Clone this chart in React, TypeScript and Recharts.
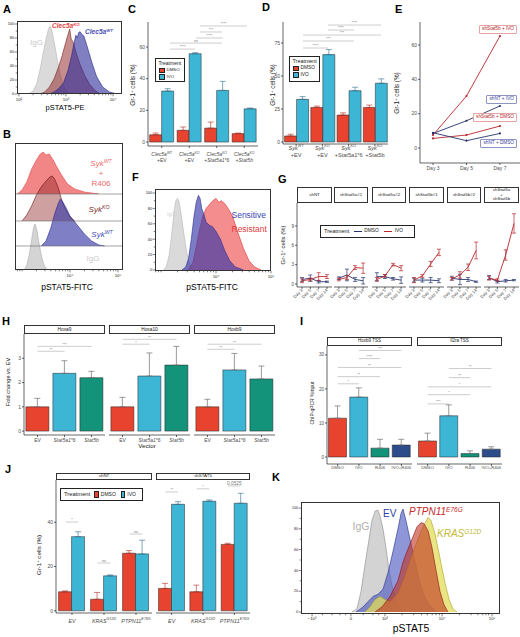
import React from 'react'
import {
  AreaChart, Area, BarChart, Bar, Cell, LineChart, Line,
  XAxis, YAxis, ErrorBar, ReferenceLine,
} from 'recharts'

const FONT = '"Liberation Sans", Arial, Helvetica, sans-serif'
const INK = '#4d4d4d'
const RED = '#e8432e'
const SKY = '#3db6d6'
const TEAL = '#12937a'
const NAVY = '#2c4c8a'
const LRED = '#b8262c'
const LNAVY = '#27346f'

// ---------- A  (x = log10 pSTAT5-PE, y = % of max)
const aIgG = [[2.2, 0], [2.3, 4], [2.38, 15], [2.45, 35], [2.52, 60], [2.58, 80], [2.63, 93], [2.67, 97], [2.71, 88], [2.76, 70], [2.82, 48], [2.88, 28], [2.95, 12], [3.02, 4], [3.1, 0]]
const aKO = [[2.45, 0], [2.55, 3], [2.65, 10], [2.75, 22], [2.85, 40], [2.92, 55], [2.98, 70], [3.03, 82], [3.08, 93], [3.11, 79], [3.16, 73], [3.22, 58], [3.3, 42], [3.4, 26], [3.5, 14], [3.6, 6], [3.72, 0]]
const aWT = [[2.65, 0], [2.75, 3], [2.85, 8], [2.95, 16], [3.05, 35], [3.12, 55], [3.17, 72], [3.21, 84], [3.24, 80], [3.27, 88], [3.3, 89], [3.34, 85], [3.38, 83], [3.45, 68], [3.55, 45], [3.65, 25], [3.78, 10], [3.92, 3], [4.08, 0]]

// ---------- B  (ridge rows, heights in row units)
const bIgG = [[3.05, 0], [3.1, 5], [3.15, 15], [3.2, 30], [3.24, 42], [3.27, 46], [3.31, 40], [3.35, 28], [3.4, 15], [3.45, 6], [3.52, 0]]
const bWT = [[3.4, 0], [3.5, 5], [3.6, 18], [3.68, 32], [3.75, 42], [3.8, 47], [3.85, 44], [3.92, 38], [4.0, 30], [4.1, 24], [4.2, 18], [4.3, 12], [4.45, 5], [4.6, 1], [4.72, 0]]
const bKO = [[3.0, 0], [3.1, 6], [3.2, 15], [3.3, 26], [3.4, 34], [3.5, 40], [3.58, 44], [3.63, 45], [3.68, 42], [3.75, 34], [3.82, 22], [3.9, 12], [4.0, 4], [4.1, 0]]
const bR406 = [[2.9, 0], [3.0, 4], [3.1, 12], [3.2, 25], [3.3, 34], [3.38, 40], [3.44, 42], [3.5, 39], [3.57, 40], [3.65, 34], [3.75, 25], [3.85, 17], [3.95, 10], [4.1, 5], [4.3, 2], [4.6, 0]]
const bBase = [0, 24, 49, 76]

// ---------- C / D
const treatments = ['DMSO', 'IVO']
const cGene = [['Clec5a', 'WT'], ['Clec5a', 'KO'], ['Clec5a', 'KO'], ['Clec5a', 'KO']]
const vectors = ['EV', 'EV', 'Stat5a1*6', 'Stat5b']
const cDmso = [4.6, 7.4, 8.8, 5.3]
const cDmsoErr = [1.1, 2.1, 3.8, 0.4]
const cIvo = [32.2, 55.8, 32.6, 21]
const cIvoErr = [1.5, 0.6, 5.7, 0.5]
const cSig = [
  { x1: 0.8, x2: 1.71, y: 58.7, t: '****' },
  { x1: 0.8, x2: 2.69, y: 62.5, t: 'ns' },
  { x1: 1.75, x2: 2.72, y: 65.7, t: '****' },
  { x1: 1.89, x2: 2.69, y: 69.5, t: '***' },
  { x1: 1.89, x2: 3.6, y: 73.3, t: '****' },
]
const dGene = [['Syk', 'WT'], ['Syk', 'KO'], ['Syk', 'KO'], ['Syk', 'KO']]
const dDmso = [4.6, 26.2, 20.4, 26.2]
const dDmsoErr = [1.3, 1.0, 1.7, 1.8]
const dIvo = [32.3, 66.2, 38.9, 44.5]
const dIvoErr = [2.1, 3.8, 2.6, 3.3]
const dSig = [
  { x1: 1.71, x2: 3.73, y: 88.6, t: '****' },
  { x1: 1.71, x2: 2.7, y: 84.8, t: '****' },
  { x1: 0.76, x2: 3.73, y: 81, t: '***' },
  { x1: 0.76, x2: 2.7, y: 76.5, t: '***' },
  { x1: 0.76, x2: 1.71, y: 71.2, t: '****' },
]

// ---------- E
const eDays = ['Day 3', 'Day 5', 'Day 7']
const eStat5bIvo = [7.6, 30.3, 65.2]
const eNtIvo = [8.5, 15.9, 24.5]
const eStat5bDmso = [5.6, 7.6, 12.8]
const eNtDmso = [8.9, 4.3, 8.5]

// ---------- F
const fIgG = [[3.05, 0], [3.1, 5], [3.15, 20], [3.2, 50], [3.24, 78], [3.27, 90], [3.3, 93], [3.33, 88], [3.37, 70], [3.42, 45], [3.47, 22], [3.52, 8], [3.58, 0]]
const fSens = [[3.38, 0], [3.45, 4], [3.5, 15], [3.55, 40], [3.6, 70], [3.64, 88], [3.68, 97], [3.71, 93], [3.74, 80], [3.78, 72], [3.82, 62], [3.88, 58], [3.94, 56], [4.0, 50], [4.08, 40], [4.16, 25], [4.25, 12], [4.35, 4], [4.5, 0]]
const fRes = [[3.5, 0], [3.58, 10], [3.64, 30], [3.7, 52], [3.76, 70], [3.82, 80], [3.88, 85], [3.94, 90], [4.0, 93], [4.05, 88], [4.1, 90], [4.16, 86], [4.22, 80], [4.3, 70], [4.4, 48], [4.5, 28], [4.6, 12], [4.7, 4], [4.82, 0]]

// ---------- G
const gFacets = ['shNT', 'shStat5a#1', 'shStat5a#2', 'shStat5b#1', 'shStat5b#2', 'shStat5a\n+\nshStat5b']
const gDays = ['Day 3', 'Day 5', 'Day 7', 'Day 14']
const gDmso = [[0.7, 0.9, 0.35, 0.35], [0.9, 1.4, 0.7, 0.5], [1.15, 1.15, 0.8, 0.6], [0.6, 0.6, 0.6, 0.5], [0.9, 0.7, 0.7, 0.35], [1.0, 0.35, 0.5, 0.6]]
const gDmsoErr = [[0.3, 0.5, 0.2, 0.1], [0.2, 0.9, 0.3, 0.5], [0.6, 0.3, 0.2, 0.5], [0.3, 0.3, 0.4, 0.3], [0.3, 0.8, 0.3, 0.1], [0.3, 0.2, 0.2, 0.1]]
const gIvo = [[0.5, 0.7, 1.15, 1.15], [0.7, 1.0, 2.55, 2.45], [0.7, 1.25, 3.0, 2.45], [0.6, 1.25, 3.1, 4.9], [0.8, 1.4, 2.6, 5.2], [0.9, 0.6, 4.5, 9.4]]
const gIvoErr = [[0.3, 0.2, 0.6, 0.3], [0.2, 0.3, 0.3, 0.8], [0.3, 0.2, 0.2, 0.4], [0.4, 0.2, 0.4, 0.5], [0.2, 0.5, 0.5, 1.3], [0.3, 0.2, 0.8, 1.5]]

// ---------- H
const hFacets = ['Hoxa9', 'Hoxa10', 'Hoxb9']
const hVectors = ['EV', 'Stat5a1*6', 'Stat5b']
const hColors = [RED, SKY, TEAL]
const hFold = [[1, 2.38, 2.2], [1, 2.27, 2.72], [1, 2.52, 2.15]]
const hErr = [[0.35, 0.52, 0.26], [0.39, 0.95, 0.77], [0.31, 0.68, 0.53]]
const hSig = [
  [{ x1: 0.5, x2: 2.5, y: 3.49, t: '***' }, { x1: 0.5, x2: 1.5, y: 3.29, t: '**' }],
  [{ x1: 0.5, x2: 2.5, y: 3.78, t: '**' }, { x1: 0.5, x2: 1.5, y: 3.58, t: '*' }],
  [{ x1: 0.5, x2: 2.5, y: 3.58, t: '**' }, { x1: 0.5, x2: 1.5, y: 3.37, t: '**' }],
]

// ---------- I
const iFacets = ['Hoxb9 TSS', 'Il2ra TSS']
const iConds = ['DMSO', 'IVO', 'R406', 'IVO+R406']
const iColors = [RED, SKY, TEAL, NAVY]
const iInput = [[11.4, 17.6, 2.6, 3.5], [4.7, 12.1, 1.0, 2.3]]
const iErr = [[3.6, 2.7, 2.6, 1.7], [2.3, 3.2, 0.8, 0.7]]
const iSig = [
  [
    { x1: 1.5, x2: 3.5, y: 31.3, t: '***' }, { x1: 1.5, x2: 2.5, y: 28.9, t: '****' },
    { x1: 0.5, x2: 3.5, y: 26.3, t: '**' }, { x1: 0.5, x2: 2.5, y: 23.6, t: '**' },
    { x1: 0.5, x2: 1.5, y: 21.5, t: '*' },
  ],
  [
    { x1: 1.5, x2: 3.5, y: 26, t: '**' }, { x1: 1.5, x2: 2.5, y: 23.3, t: '**' },
    { x1: 0.5, x2: 3.5, y: 20.6, t: '*' }, { x1: 0.5, x2: 2.5, y: 18.3, t: '*' },
    { x1: 0.5, x2: 1.5, y: 15.6, t: '***' },
  ],
]

// ---------- J
const jFacets = ['shNT', 'shSTAT5']
const jGene = [['EV', ''], ['KRAS', 'G12D'], ['PTPN11', 'E76G']]
const jDmso = [[8.6, 5.2, 26], [10.1, 8.6, 30]]
const jDmsoErr = [[0.4, 3.1, 1.2], [2.3, 3.0, 0.5]]
const jIvo = [[33.5, 15.8, 25.7], [48.1, 49.5, 48.6]]
const jIvoErr = [[2.2, 0.4, 6.2], [1.2, 0.6, 4.5]]
const jSig = [
  [{ x1: 0.3, x2: 0.7, y: 40.1, t: '*' }, { x1: 1.3, x2: 1.7, y: 21.6, t: 'ns' }, { x1: 2.3, x2: 2.7, y: 34.7, t: 'ns' }],
  [{ x1: 0.3, x2: 0.7, y: 53.7, t: '**' }, { x1: 1.3, x2: 1.7, y: 55.1, t: '*' }, { x1: 2.3, x2: 2.7, y: 56.4, t: '0.0525' }],
]

// ---------- K  (x = display channel 0..1024, biexponential)
const kIgG = [[262, 0], [288, 3], [309, 20], [329, 45], [350, 70], [365, 88], [381, 97], [396, 98], [407, 92], [422, 80], [437, 62], [453, 40], [468, 25], [489, 12], [509, 4], [535, 0]]
const kEV = [[283, 0], [314, 4], [345, 10], [371, 15], [396, 17], [422, 22], [448, 38], [473, 58], [499, 80], [515, 95], [525, 99], [540, 88], [561, 70], [587, 48], [612, 28], [638, 14], [664, 6], [700, 0]]
const kPTPN11 = [[381, 0], [417, 5], [458, 15], [499, 30], [525, 48], [545, 58], [571, 70], [597, 82], [618, 86], [633, 85], [654, 78], [674, 62], [695, 40], [715, 20], [736, 7], [756, 0]]
const kKRAS = [[329, 0], [355, 5], [381, 12], [407, 15], [432, 12], [458, 10], [499, 18], [535, 35], [571, 55], [602, 70], [628, 82], [654, 91], [669, 88], [690, 75], [715, 52], [741, 28], [762, 12], [782, 3], [803, 0]]
const kMajors = [{ v: 57, t: '−10³' }, { v: 257, t: '0' }, { v: 432, t: '10³' }, { v: 726, t: '10⁴' }, { v: 983, t: '10⁵' }]
const kMinors = [110, 160, 200, 230, 320, 370, 400, 520, 580, 620, 650, 675, 695, 712, 815, 875, 910, 935, 952, 965]

const pctMajors = [0, 20, 40, 60, 80, 100].map(v => ({ v, t: String(v) }))
const pctTicks = [0, 10, 20, 30, 40, 50, 60, 70, 80, 90, 100]

// ------------------------------------------------------------------
type Major = { v: number; t: string }
type Sig = { x1: number; x2: number; y: number; t: string }
type Curve = { pts: number[][]; fill: string; stroke: string; op: number; base?: number }

const AX = { stroke: '#000', strokeWidth: 0.6 }

const frame = (l: number, t: number, r: number, b: number, yw: number, xh: number) => ({
  style: { position: 'absolute' as const, left: l - yw, top: t - 2 },
  width: r - l + yw + 2,
  height: b - t + 2 + xh,
  margin: { top: 2, right: 2, bottom: 0, left: 0 },
})

const logTicks = (lo: number, hi: number) => {
  const out: number[] = []
  for (let n = Math.floor(lo); n <= Math.ceil(hi); n++)
    for (let k = 1; k < 10; k++) {
      const v = n + Math.log10(k)
      if (v >= lo && v <= hi) out.push(v)
    }
  return out
}

const near = (list: Major[], v: number) => list.find(m => Math.abs(m.v - v) < 1e-6)

const flowXTick = (majors: Major[], fs: number) => (p: any) => {
  const m = near(majors, p.payload.value)
  return (
    <g>
      <line x1={p.x} x2={p.x} y1={p.y} y2={p.y + (m ? 2.4 : 1.3)} stroke="#000" strokeWidth={0.5} />
      {m && <text x={p.x} y={p.y + 3 + fs * 0.8} fontSize={fs} textAnchor="middle" fill="#222">{m.t}</text>}
    </g>
  )
}

const flowYTick = (majors: Major[], fs: number) => (p: any) => {
  const m = near(majors, p.payload.value)
  return (
    <g>
      <line x1={p.x} x2={p.x - (m ? 2.4 : 1.3)} y1={p.y} y2={p.y} stroke="#000" strokeWidth={0.5} />
      {m && <text x={p.x - 3} y={p.y + fs * 0.35} fontSize={fs} textAnchor="end" fill="#222">{m.t}</text>}
    </g>
  )
}

// significance brackets, drawn on a hidden numeric x axis (id "n") where category i spans [i, i+1]
const sigLines = (list: Sig[]) =>
  list.map((s, i) => (
    <ReferenceLine
      key={`sig${i}`}
      xAxisId="n"
      segment={[{ x: s.x1, y: s.y }, { x: s.x2, y: s.y }]}
      stroke="#9a9a9a"
      strokeWidth={0.5}
      ifOverflow="visible"
      label={{ value: s.t, position: 'top', offset: 0.6, fontSize: s.t.length > 4 ? 4.8 : 3.8, fill: '#7a7a7a' }}
    />
  ))

const Sup = ({ children }: { children: React.ReactNode }) => (
  <span style={{ fontSize: '0.65em', verticalAlign: '0.5em', lineHeight: 0 }}>{children}</span>
)

type TxtProps = { x: number; y: number; s: number; c?: string; b?: boolean; i?: boolean; center?: boolean; rot?: boolean; children: React.ReactNode }
const Txt = ({ x, y, s, c = '#000', b, i, center, rot, children }: TxtProps) => (
  <div
    style={{
      position: 'absolute', left: x, top: y, fontSize: s, lineHeight: 1, color: c,
      fontWeight: b ? 700 : 400, fontStyle: i ? 'italic' : 'normal', whiteSpace: 'nowrap',
      transform: rot ? 'translate(-50%,-50%) rotate(-90deg)' : center ? 'translateX(-50%)' : undefined,
    }}
  >
    {children}
  </div>
)

const Strip = ({ l, r, t, b, fs, children }: { l: number; r: number; t: number; b: number; fs: number; children: React.ReactNode }) => (
  <div
    style={{
      position: 'absolute', left: l, top: t, width: r - l, height: b - t, border: '0.8px solid #333',
      boxSizing: 'border-box', background: '#fff', display: 'flex', alignItems: 'center',
      justifyContent: 'center', textAlign: 'center', fontSize: fs, lineHeight: 1.1, color: '#1a1a1a', whiteSpace: 'pre',
    }}
  >
    {children}
  </div>
)

const Letter = ({ x, y, children }: { x: number; y: number; children: React.ReactNode }) => (
  <Txt x={x} y={y} s={11} b>{children}</Txt>
)

const trtColors = [RED, SKY]

const VLegend = ({ x, y, w, h, fs }: { x: number; y: number; w: number; h: number; fs: number }) => (
  <div
    style={{
      position: 'absolute', left: x, top: y, width: w, height: h, border: '0.8px solid #222',
      boxSizing: 'border-box', background: '#fff', padding: '2px 2.5px', fontSize: fs - 0.6, lineHeight: 1, color: '#1a1a1a',
    }}
  >
    <div style={{ fontSize: fs, marginBottom: 1.5 }}>Treatment</div>
    {treatments.map((name, i) => (
      <div key={name} style={{ display: 'flex', alignItems: 'center', gap: 2, marginTop: 1 }}>
        <span style={{ width: 6, height: 5.5, background: trtColors[i], border: '0.5px solid #222', boxSizing: 'border-box', display: 'inline-block' }} />
        {name}
      </div>
    ))}
  </div>
)

// ------------------------------------------------------------------
type FlowProps = {
  l: number; t: number; r: number; b: number; yw: number; xh: number; fs: number
  xDomain: number[]; yDomain: number[]; xTicks: number[]; xMajors: Major[]
  yTicks: number[]; yMajors: Major[]; curves: Curve[]; extra?: React.ReactNode
}

function FlowPlot({ l, t, r, b, yw, xh, fs, xDomain, yDomain, xTicks, xMajors, yTicks, yMajors, curves, extra }: FlowProps) {
  const f = frame(l, t, r, b, yw, xh)
  return (
    <>
      <div style={f.style}>
        <AreaChart width={f.width} height={f.height} margin={f.margin}>
          <XAxis
            type="number" dataKey="x" domain={xDomain} allowDataOverflow ticks={xTicks} interval={0}
            tick={flowXTick(xMajors, fs)} tickSize={0} tickMargin={0} tickLine={false} axisLine={false} height={xh}
          />
          <YAxis
            type="number" domain={yDomain} allowDataOverflow ticks={yTicks} interval={0}
            tick={yTicks.length ? flowYTick(yMajors, fs - 0.6) : false} tickSize={0} tickMargin={0}
            tickLine={false} axisLine={false} width={yw}
          />
          {curves.map((c, i) => (
            <Area
              key={i}
              data={c.pts.map(([x, y]) => ({ x, y: y + (c.base ?? 0) }))}
              dataKey="y"
              type="linear"
              baseValue={c.base ?? 0}
              fill={c.fill}
              fillOpacity={c.op}
              stroke={c.stroke}
              strokeWidth={0.6}
              dot={false}
              activeDot={false}
              isAnimationActive={false}
            />
          ))}
          {extra}
        </AreaChart>
      </div>
      <div
        style={{
          position: 'absolute', left: l, top: t, width: r - l, height: b - t,
          border: '1px solid #333', boxSizing: 'border-box', pointerEvents: 'none',
        }}
      />
    </>
  )
}

// ------------------------------------------------------------------
function PanelA() {
  return (
    <>
      <FlowPlot
        l={17} t={21} r={122} b={94} yw={17} xh={10} fs={4.4}
        xDomain={[1.96, 4.19]} yDomain={[0, 104.3]}
        xTicks={logTicks(1.96, 4.19)}
        xMajors={[{ v: 2, t: '10²' }, { v: 3, t: '10³' }, { v: 4, t: '10⁴' }]}
        yTicks={pctTicks} yMajors={pctMajors}
        curves={[
          { pts: aIgG, fill: '#d4d4d4', stroke: '#b5b5b5', op: 0.85 },
          { pts: aKO, fill: '#8b1c1c', stroke: '#7a2020', op: 0.5 },
          { pts: aWT, fill: '#2a2a9a', stroke: '#24248a', op: 0.6 },
        ]}
      />
      <Txt x={30} y={38.5} s={8} c="#c9c9c9">IgG</Txt>
      <Txt x={52} y={23} s={6.6} c="#e04444" b i>Clec5a<Sup>KO</Sup></Txt>
      <Txt x={85} y={29} s={6.6} c="#4a50b0" b i>Clec5a<Sup>WT</Sup></Txt>
      <Txt x={65} y={103.6} s={7.5} center>pSTAT5-PE</Txt>
    </>
  )
}

function PanelB() {
  const rows = [
    { pts: bR406, fill: '#f07070', stroke: '#e04c4c', op: 0.85, base: bBase[3] },
    { pts: bKO, fill: '#8b1c1c', stroke: '#6b1010', op: 0.42, base: bBase[2] },
    { pts: bWT, fill: '#3a3aa8', stroke: '#2a2a90', op: 0.65, base: bBase[1] },
    { pts: bIgG, fill: '#cfcfcf', stroke: '#ababab', op: 0.9, base: bBase[0] },
  ]
  return (
    <>
      <FlowPlot
        l={15} t={143} r={123} b={270} yw={0} xh={10} fs={4.4}
        xDomain={[2.854, 5.104]} yDomain={[0, 127]}
        xTicks={logTicks(2.854, 5.104)}
        xMajors={[{ v: 4, t: '10⁴' }, { v: 5, t: '10⁵' }]}
        yTicks={[]} yMajors={[]}
        curves={rows}
        extra={bBase.slice(1).map(v => <ReferenceLine key={v} y={v} stroke="#666" strokeWidth={0.6} />)}
      />
      <div style={{ position: 'absolute', left: 101, top: 159.2, transform: 'translateX(-50%)', fontSize: 8, lineHeight: '10px', color: '#ee6a6a', textAlign: 'center', whiteSpace: 'nowrap' }}>
        <i>Syk<Sup>WT</Sup></i><br />+<br />R406
      </div>
      <Txt x={99} y={206} s={8} c="#7a1f1f" i center>Syk<Sup>KO</Sup></Txt>
      <Txt x={102} y={231} s={8} c="#4048b0" i center>Syk<Sup>WT</Sup></Txt>
      <Txt x={93} y={255} s={8} c="#cccccc" center>IgG</Txt>
      <Txt x={67} y={283.3} s={8.5} center>pSTAT5-FITC</Txt>
    </>
  )
}

const geneTick = (genes: string[][], vec: string[] | null, fs: number, b1: number, gap: number, vecItalic: boolean) => (p: any) => {
  const i = Number(p.payload.value)
  const [g, s] = genes[i]
  return (
    <g>
      <text x={p.x} y={p.y + b1} fontSize={fs} textAnchor="middle" fill={INK} fontStyle="italic">
        {g}
        {s && <tspan fontSize={fs * 0.68} dy={-fs * 0.38}>{s}</tspan>}
      </text>
      {vec && (
        <text x={p.x} y={p.y + b1 + gap} fontSize={fs} textAnchor="middle" fill={INK}>
          +<tspan fontStyle={vec[i] === 'EV' || !vecItalic ? 'normal' : 'italic'}>{vec[i]}</tspan>
        </text>
      )}
    </g>
  )
}

type GroupProps = {
  l: number; t: number; r: number; b: number; xh: number; yw: number; showY: boolean
  genes: string[][]; vec: string[] | null; vecItalic: boolean; fs: number; b1: number; gap: number
  dmso: number[]; dmsoErr: number[]; ivo: number[]; ivoErr: number[]
  yDomain: number[]; yTicks: number[]; sig: Sig[]; gapPct: string; yfs: number
}

function GroupBars(p: GroupProps) {
  const f = frame(p.l, p.t, p.r, p.b, p.showY ? p.yw : 0, p.xh)
  const rows = p.dmso.map((v, i) => ({
    c: String(i), pos: i + 0.5, dmso: v, de: [0, p.dmsoErr[i]], ivo: p.ivo[i], ie: [0, p.ivoErr[i]],
  }))
  return (
    <div style={f.style}>
      <BarChart width={f.width} height={f.height} margin={f.margin} data={rows} barCategoryGap={p.gapPct} barGap={0}>
        <XAxis dataKey="c" interval={0} tick={geneTick(p.genes, p.vec, p.fs, p.b1, p.gap, p.vecItalic)} tickSize={2} tickMargin={0} height={p.xh} axisLine={AX} tickLine={AX} />
        <XAxis xAxisId="n" dataKey="pos" type="number" domain={[0, rows.length]} hide allowDataOverflow />
        <YAxis
          domain={p.yDomain} ticks={p.yTicks} allowDataOverflow hide={!p.showY} width={p.showY ? p.yw : 0}
          tick={{ fontSize: p.yfs, fill: INK }} tickSize={2} tickMargin={1} axisLine={AX} tickLine={AX}
        />
        <Bar dataKey="dmso" fill={RED} stroke="#222" strokeWidth={0.5} isAnimationActive={false}>
          <ErrorBar dataKey="de" width={3} stroke="#b0281c" strokeWidth={0.6} />
        </Bar>
        <Bar dataKey="ivo" fill={SKY} stroke="#222" strokeWidth={0.5} isAnimationActive={false}>
          <ErrorBar dataKey="ie" width={3} stroke="#2a6f8c" strokeWidth={0.6} />
        </Bar>
        {sigLines(p.sig)}
      </BarChart>
    </div>
  )
}

function PanelC() {
  return (
    <>
      <GroupBars
        l={148} t={22} r={258} b={146} xh={22} yw={10} showY genes={cGene} vec={vectors} vecItalic
        fs={5} b1={8} gap={6} dmso={cDmso} dmsoErr={cDmsoErr} ivo={cIvo} ivoErr={cIvoErr}
        yDomain={[-2.5, 75.8]} yTicks={[0, 20, 40, 60]} sig={cSig} gapPct="6%" yfs={5}
      />
      <VLegend x={155} y={58} w={30} h={24} fs={5} />
      <Txt x={133} y={85} s={6.4} c="#222" rot>Gr-1<Sup>+</Sup> cells (%)</Txt>
    </>
  )
}

function PanelD() {
  return (
    <>
      <GroupBars
        l={283} t={22} r={388} b={144} xh={22} yw={10} showY genes={dGene} vec={vectors} vecItalic={false}
        fs={5.6} b1={3.5} gap={7.5} dmso={dDmso} dmsoErr={dDmsoErr} ivo={dIvo} ivoErr={dIvoErr}
        yDomain={[-1.5, 90.9]} yTicks={[0, 25, 50, 75]} sig={dSig} gapPct="6%" yfs={5}
      />
      <VLegend x={289} y={56} w={31} h={26} fs={5.4} />
      <Txt x={273} y={85} s={6.4} c="#222" rot>Gr-1<Sup>+</Sup> cells (%)</Txt>
    </>
  )
}

function PanelE() {
  const f = frame(420, 22, 520, 163, 10, 10)
  const rows = eDays.map((d, k) => ({ x: k + 1, a: eStat5bIvo[k], b: eNtIvo[k], c: eStat5bDmso[k], d: eNtDmso[k] }))
  const series: [string, string][] = [['c', LRED], ['d', LNAVY], ['b', LNAVY], ['a', LRED]]
  const tag = (y: number, text: string, c: string, bc: string) => (
    <div style={{ position: 'absolute', right: 3, top: y, fontSize: 4.7, lineHeight: 1, color: c, border: `0.6px solid ${bc}`, padding: '1px 2px', background: '#fff', whiteSpace: 'nowrap', borderRadius: 1 }}>
      {text}
    </div>
  )
  return (
    <>
      <div style={f.style}>
        <LineChart width={f.width} height={f.height} margin={f.margin} data={rows}>
          <XAxis
            type="number" dataKey="x" domain={[0.61, 3.6]} allowDataOverflow ticks={[1, 2, 3]} interval={0}
            tickFormatter={(v: number) => eDays[v - 1]} tick={{ fontSize: 5, fill: INK }} tickSize={2} tickMargin={1}
            height={10} axisLine={AX} tickLine={AX}
          />
          <YAxis domain={[-8.7, 73.4]} allowDataOverflow ticks={[0, 20, 40, 60]} width={10} tick={{ fontSize: 5, fill: INK }} tickSize={2} tickMargin={1} axisLine={AX} tickLine={AX} />
          {series.map(([k, c]) => (
            <Line key={k} dataKey={k} type="linear" stroke={c} strokeWidth={0.9} dot={{ r: 1.1, fill: c, stroke: c, strokeWidth: 0 }} activeDot={false} isAnimationActive={false} />
          ))}
        </LineChart>
      </div>
      {tag(25, 'shStat5b + IVO', LRED, '#e6a3a3')}
      {tag(95, 'shNT + IVO', '#3a3f9a', '#8f94c4')}
      {tag(113, 'shStat5b + DMSO', LRED, '#e6a3a3')}
      {tag(139, 'shNT + DMSO', '#3a3f9a', '#8f94c4')}
      <Txt x={397} y={93} s={6.4} c="#222" rot>Gr-1<Sup>+</Sup> cells (%)</Txt>
    </>
  )
}

function PanelF() {
  return (
    <>
      <FlowPlot
        l={155} t={189} r={271} b={271} yw={13} xh={10} fs={4.4}
        xDomain={[2.89, 5.0]} yDomain={[-1.3, 105.2]}
        xTicks={logTicks(2.89, 5.0)}
        xMajors={[{ v: 4, t: '10⁴' }, { v: 5, t: '10⁵' }]}
        yTicks={pctTicks} yMajors={pctMajors}
        curves={[
          { pts: fIgG, fill: '#d4d4d4', stroke: '#b5b5b5', op: 0.85 },
          { pts: fRes, fill: '#f06868', stroke: '#e03030', op: 0.75 },
          { pts: fSens, fill: '#3535a8', stroke: '#2a2a90', op: 0.65 },
        ]}
      />
      <Txt x={167} y={211.7} s={5} c="#d0d0d0">IgG</Txt>
      <Txt x={231.5} y={210.8} s={8.5} c="#3a48b0">Sensitive</Txt>
      <Txt x={231.5} y={224.8} s={8.5} c="#e03c3c">Resistant</Txt>
      <Txt x={212} y={283.3} s={8.5} center>pSTAT5-FITC</Txt>
    </>
  )
}

const gStripX = [[297, 332], [334, 368], [372, 406], [409, 444], [447, 481], [484, 519]]

const rotTick = (p: any) => (
  <text x={p.x + 1} y={p.y + 1} transform={`rotate(-45 ${p.x + 1} ${p.y + 1})`} textAnchor="end" fontSize={4.3} fill={INK}>
    {gDays[p.payload.value - 1]}
  </text>
)

function PanelG() {
  return (
    <>
      {gFacets.map((name, i) => {
        const [l, r] = gStripX[i]
        const f = frame(l, 203, r, 287, i === 0 ? 10 : 0, 18)
        const rows = gDays.map((d, k) => ({ x: k + 1, dmso: gDmso[i][k], de: gDmsoErr[i][k], ivo: gIvo[i][k], ie: gIvoErr[i][k] }))
        return (
          <React.Fragment key={name}>
            <Strip l={l} r={r} t={187} b={203} fs={4.4}>{name}</Strip>
            <div style={f.style}>
              <LineChart width={f.width} height={f.height} margin={f.margin} data={rows}>
                <XAxis type="number" dataKey="x" domain={[0.4, 4.6]} allowDataOverflow ticks={[1, 2, 3, 4]} interval={0} tick={rotTick} tickSize={2} tickMargin={0.5} height={18} axisLine={AX} tickLine={AX} />
                <YAxis domain={[-0.47, 12.57]} allowDataOverflow ticks={[0, 3, 6, 9]} hide={i > 0} width={i === 0 ? 10 : 0} tick={{ fontSize: 4.6, fill: INK }} tickSize={2} tickMargin={1} axisLine={AX} tickLine={AX} />
                <Line dataKey="dmso" type="linear" stroke={LNAVY} strokeWidth={0.9} dot={false} activeDot={false} isAnimationActive={false}>
                  <ErrorBar dataKey="de" width={2} stroke={LNAVY} strokeWidth={0.7} direction="y" />
                </Line>
                <Line dataKey="ivo" type="linear" stroke={LRED} strokeWidth={0.9} dot={false} activeDot={false} isAnimationActive={false}>
                  <ErrorBar dataKey="ie" width={2} stroke={LRED} strokeWidth={0.7} direction="y" />
                </Line>
              </LineChart>
            </div>
          </React.Fragment>
        )
      })}
      <div style={{ position: 'absolute', left: 320, top: 225, width: 95, height: 13, border: '0.8px solid #222', boxSizing: 'border-box', background: '#fff', display: 'flex', alignItems: 'center', gap: 2.5, padding: '0 3px', fontSize: 4.8, color: '#1a1a1a', lineHeight: 1 }}>
        <span style={{ fontSize: 5.6, marginRight: 2 }}>Treatment</span>
        {treatments.map((name, i) => (
          <React.Fragment key={name}>
            <span style={{ width: 8, height: 0, borderTop: `1.2px solid ${i === 0 ? LNAVY : LRED}`, display: 'inline-block' }} />
            <span style={{ marginRight: 3 }}>{name}</span>
          </React.Fragment>
        ))}
      </div>
      <Txt x={283} y={245} s={6} c="#222" rot>Gr-1<Sup>+</Sup> cells (%)</Txt>
    </>
  )
}

const hStripX = [[24, 105], [109, 190], [194, 275]]

const hTick = (p: any) => (
  <text x={p.x} y={p.y + 4.6} fontSize={5} textAnchor="middle" fill={INK} fontStyle={p.payload.value === 'EV' ? 'normal' : 'italic'}>
    {p.payload.value}
  </text>
)

function PanelH() {
  return (
    <>
      {hFacets.map((name, i) => {
        const [l, r] = hStripX[i]
        const f = frame(l, 334, r, 435, i === 0 ? 8 : 0, 10)
        const rows = hVectors.map((v, k) => ({ c: v, pos: k + 0.5, v: hFold[i][k], e: [0, hErr[i][k]] }))
        return (
          <React.Fragment key={name}>
            <Strip l={l} r={r} t={325} b={334} fs={4.8}>{name}</Strip>
            <div style={f.style}>
              <BarChart width={f.width} height={f.height} margin={f.margin} data={rows} barCategoryGap="7%">
                <XAxis dataKey="c" interval={0} tick={hTick} tickSize={2} tickMargin={0} height={10} axisLine={AX} tickLine={AX} />
                <XAxis xAxisId="n" dataKey="pos" type="number" domain={[0, 3]} hide allowDataOverflow />
                <YAxis domain={[-0.16, 4]} allowDataOverflow ticks={[0, 1, 2, 3]} hide={i > 0} width={i === 0 ? 8 : 0} tick={{ fontSize: 5, fill: INK }} tickSize={2} tickMargin={1} axisLine={AX} tickLine={AX} />
                <Bar dataKey="v" stroke="#222" strokeWidth={0.5} isAnimationActive={false}>
                  {rows.map((_, k) => <Cell key={k} fill={hColors[k]} />)}
                  <ErrorBar dataKey="e" width={3} stroke="#707070" strokeWidth={0.7} />
                </Bar>
                {sigLines(hSig[i])}
              </BarChart>
            </div>
          </React.Fragment>
        )
      })}
      <Txt x={147} y={442.5} s={6.2} c="#222" center>Vector</Txt>
      <Txt x={9} y={382} s={5.6} c="#222" rot>Fold change vs. EV</Txt>
    </>
  )
}

const iStripX = [[327, 412], [417, 502]]

function PanelI() {
  return (
    <>
      {iFacets.map((name, i) => {
        const [l, r] = iStripX[i]
        const f = frame(l, 346, r, 464, i === 0 ? 10 : 0, 8)
        const rows = iConds.map((c, k) => ({ c, pos: k + 0.5, v: iInput[i][k], e: [0, iErr[i][k]] }))
        return (
          <React.Fragment key={name}>
            <Strip l={l} r={r} t={337} b={346} fs={4.5}>{name}</Strip>
            <div style={f.style}>
              <BarChart width={f.width} height={f.height} margin={f.margin} data={rows} barCategoryGap="7%">
                <XAxis dataKey="c" interval={0} tick={{ fontSize: 4.2, fill: INK }} tickSize={2} tickMargin={0.5} height={8} axisLine={AX} tickLine={AX} />
                <XAxis xAxisId="n" dataKey="pos" type="number" domain={[0, 4]} hide allowDataOverflow />
                <YAxis domain={[-2.06, 32.6]} allowDataOverflow ticks={[0, 10, 20, 30]} hide={i > 0} width={i === 0 ? 10 : 0} tick={{ fontSize: 4.6, fill: INK }} tickSize={2} tickMargin={1} axisLine={AX} tickLine={AX} />
                <Bar dataKey="v" stroke="#222" strokeWidth={0.5} isAnimationActive={false}>
                  {rows.map((_, k) => <Cell key={k} fill={iColors[k]} />)}
                  <ErrorBar dataKey="e" width={3} stroke="#707070" strokeWidth={0.7} />
                </Bar>
                {sigLines(iSig[i])}
              </BarChart>
            </div>
          </React.Fragment>
        )
      })}
      <Txt x={312} y={403} s={5} c="#222" rot>ChIP-qPCR %input</Txt>
    </>
  )
}

const jStripX = [[56, 152], [156, 250]]

function PanelJ() {
  return (
    <>
      {jFacets.map((name, i) => {
        const [l, r] = jStripX[i]
        return (
          <React.Fragment key={name}>
            <Strip l={l} r={r} t={473} b={480} fs={4.4}>{name}</Strip>
            <GroupBars
              l={l} t={480} r={r} b={613} xh={16} yw={10} showY={i === 0} genes={jGene} vec={null} vecItalic
              fs={5.4} b1={7.5} gap={0} dmso={jDmso[i]} dmsoErr={jDmsoErr[i]} ivo={jIvo[i]} ivoErr={jIvoErr[i]}
              yDomain={[-1, 59.1]} yTicks={[0, 20, 40]} sig={jSig[i]} gapPct="8%" yfs={5}
            />
          </React.Fragment>
        )
      })}
      <div style={{ position: 'absolute', left: 60, top: 488, width: 83, height: 13, border: '0.8px solid #222', boxSizing: 'border-box', background: '#fff', display: 'flex', alignItems: 'center', gap: 2, padding: '0 3px', fontSize: 5, color: '#1a1a1a', lineHeight: 1 }}>
        <span style={{ fontSize: 5.8, marginRight: 2 }}>Treatment</span>
        {treatments.map((name, i) => (
          <React.Fragment key={name}>
            <span style={{ width: 7, height: 7, background: trtColors[i], border: '0.5px solid #222', boxSizing: 'border-box', display: 'inline-block' }} />
            <span style={{ marginRight: 3 }}>{name}</span>
          </React.Fragment>
        ))}
      </div>
      <Txt x={39} y={555} s={6.2} c="#222" rot>Gr-1<Sup>+</Sup> cells (%)</Txt>
    </>
  )
}

function PanelK() {
  const ticks = [...kMajors.map(m => m.v), ...kMinors].sort((a, b) => a - b)
  return (
    <>
      <FlowPlot
        l={301} t={502} r={500} b={614} yw={12} xh={10} fs={4.2}
        xDomain={[0, 1024]} yDomain={[-1.9, 105.8]}
        xTicks={ticks} xMajors={kMajors}
        yTicks={pctTicks} yMajors={pctMajors}
        curves={[
          { pts: kIgG, fill: '#c4c4c4', stroke: '#8a8a8a', op: 0.75 },
          { pts: kEV, fill: '#4a55c0', stroke: '#1f2c8f', op: 0.62 },
          { pts: kKRAS, fill: '#e2dc5a', stroke: '#a8a020', op: 0.75 },
          { pts: kPTPN11, fill: '#c03020', stroke: '#8a1010', op: 0.6 },
        ]}
      />
      <Txt x={352.5} y={520.6} s={10.5} c="#b0b0b0">IgG</Txt>
      <Txt x={383} y={508.5} s={10} c="#2a3ca0">EV</Txt>
      <Txt x={409} y={507} s={10} c="#c62828" i>PTPN11<Sup>E76G</Sup></Txt>
      <Txt x={437} y={528.5} s={10} c="#c2ba36" i>KRAS<Sup>G12D</Sup></Txt>
      <Txt x={411} y={624} s={10.4} center>pSTAT5</Txt>
    </>
  )
}

export default function App() {
  return (
    <div
      style={{
        position: 'absolute', left: 0, top: 0, width: 520, height: 637, background: '#fff',
        overflow: 'hidden', fontFamily: FONT, color: '#000',
      }}
    >
      <style>{'.recharts-surface{overflow:visible}'}</style>
      <PanelA />
      <PanelB />
      <PanelC />
      <PanelD />
      <PanelE />
      <PanelF />
      <PanelG />
      <PanelH />
      <PanelI />
      <PanelJ />
      <PanelK />
      <Letter x={3} y={3.5}>A</Letter>
      <Letter x={3} y={128.5}>B</Letter>
      <Letter x={128} y={3.5}>C</Letter>
      <Letter x={262} y={2}>D</Letter>
      <Letter x={395} y={3.5}>E</Letter>
      <Letter x={132} y={171.5}>F</Letter>
      <Letter x={278} y={173.5}>G</Letter>
      <Letter x={2} y={315.5}>H</Letter>
      <Letter x={300} y={315.5}>I</Letter>
      <Letter x={5} y={463.5}>J</Letter>
      <Letter x={272} y={471.5}>K</Letter>
    </div>
  )
}
